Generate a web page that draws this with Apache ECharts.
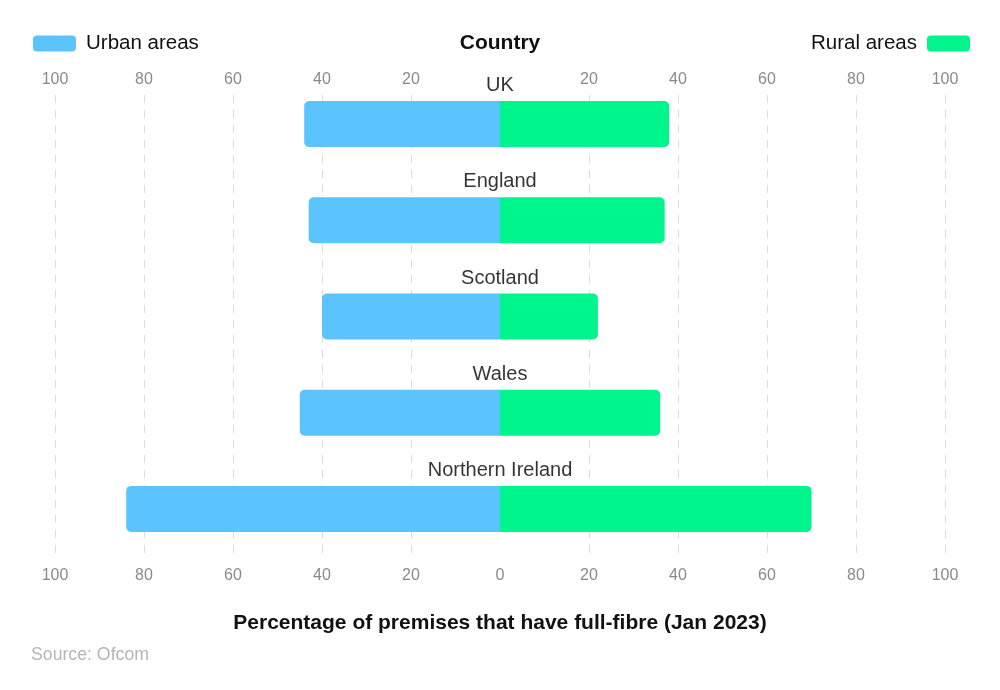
<!DOCTYPE html>
<html>
<head>
<meta charset="utf-8">
<script src="https://cdn.jsdelivr.net/npm/echarts@6/dist/echarts.min.js"></script>
<style>
html,body{margin:0;padding:0;background:#fff;}
#chart{width:1000px;height:690px;}
</style>
</head>
<body>
<div id="chart"></div>
<script>
// Data
const countries = ['UK', 'England', 'Scotland', 'Wales', 'Northern Ireland'];
const urbanAreas = [44, 43, 40, 45, 84];
const ruralAreas = [38, 37, 22, 36, 70];
const tickValues = [-100, -80, -60, -40, -20, 0, 20, 40, 60, 80, 100];

const FONT = '"Liberation Sans", Arial, Helvetica, sans-serif';
const BLUE = '#5BC4FE';
const GREEN = '#00F58C';

const chart = echarts.init(document.getElementById('chart'), null, {renderer: 'canvas'});

const splitColors = tickValues.map(v => v === 0 ? 'rgba(0,0,0,0)' : '#dcdcdc');
const absFmt = v => String(Math.abs(v));
const topFmt = v => (v === 0 ? '' : String(Math.abs(v)));

const option = {
  backgroundColor: '#ffffff',
  animation: false,
  textStyle: {fontFamily: FONT},
  title: [
    {text: 'Country', left: 495, top: 28, textAlign: 'center',
     textStyle: {fontFamily: FONT, fontSize: 21, fontWeight: 'bold', color: '#111'}},
    {text: 'Percentage of premises that have full-fibre (Jan 2023)', left: 495, top: 608, textAlign: 'center',
     textStyle: {fontFamily: FONT, fontSize: 21, fontWeight: 'bold', color: '#111'}},
    {text: 'Source: Ofcom', left: 26, top: 641,
     textStyle: {fontFamily: FONT, fontSize: 17.7, fontWeight: 'normal', color: '#b5b5b5'}}
  ],
  legend: [
    {data: ['Urban areas'], left: 28, top: 28, icon: 'roundRect', itemWidth: 43, itemHeight: 16, itemGap: 10,
     textStyle: {fontFamily: FONT, fontSize: 20.5, color: '#111', padding: [0, 0, 0, 5]}, selectedMode: false},
    {data: ['Rural areas'], right: 25, top: 28, align: 'right', icon: 'roundRect', itemWidth: 43, itemHeight: 16,
     textStyle: {fontFamily: FONT, fontSize: 20.5, color: '#111', padding: [0, 5, 0, 0]}, selectedMode: false}
  ],
  grid: [
    {left: 55, right: 55, top: 95, bottom: 132, containLabel: false},
    {left: 55, right: 55, top: 76, bottom: 133, containLabel: false}
  ],
  xAxis: [
    {gridIndex: 0, type: 'value', position: 'top', min: -100, max: 100, interval: 20,
     axisLine: {show: false}, axisTick: {show: false},
     axisLabel: {formatter: topFmt, color: '#8a8a8a', fontSize: 16, fontFamily: FONT, margin: 7},
     splitLine: {show: true, lineStyle: {color: splitColors, type: [8, 7], width: 1}}},
    {gridIndex: 0, type: 'value', position: 'bottom', min: -100, max: 100, interval: 20,
     axisLine: {show: false}, axisTick: {show: false},
     axisLabel: {formatter: absFmt, color: '#8a8a8a', fontSize: 16, fontFamily: FONT, margin: 10},
     splitLine: {show: false}},
    {gridIndex: 1, type: 'value', min: -100, max: 100, interval: 20, show: false,
     splitLine: {show: false}}
  ],
  yAxis: [
    {gridIndex: 0, type: 'category', data: countries, show: false},
    {gridIndex: 1, type: 'category', data: countries, inverse: true, show: false}
  ],
  series: [
    {name: 'Urban areas', type: 'bar', xAxisIndex: 2, yAxisIndex: 1, stack: 'total', barWidth: 46,
     itemStyle: {color: BLUE, borderRadius: [5, 0, 0, 5]},
     data: urbanAreas.map(v => -v)},
    {name: 'Rural areas', type: 'bar', xAxisIndex: 2, yAxisIndex: 1, stack: 'total', barWidth: 46,
     itemStyle: {color: GREEN, borderRadius: [0, 5, 5, 0]},
     data: ruralAreas},
    {name: 'labels', type: 'scatter', xAxisIndex: 2, yAxisIndex: 1, symbolSize: 1, silent: true,
     itemStyle: {color: 'rgba(0,0,0,0)'},
     label: {show: true, position: 'top', distance: 28, formatter: p => countries[p.dataIndex],
             fontFamily: FONT, fontSize: 20, color: '#000'},
     data: countries.map(c => [0, c])}
  ]
};
chart.setOption(option);
</script>
</body>
</html>
